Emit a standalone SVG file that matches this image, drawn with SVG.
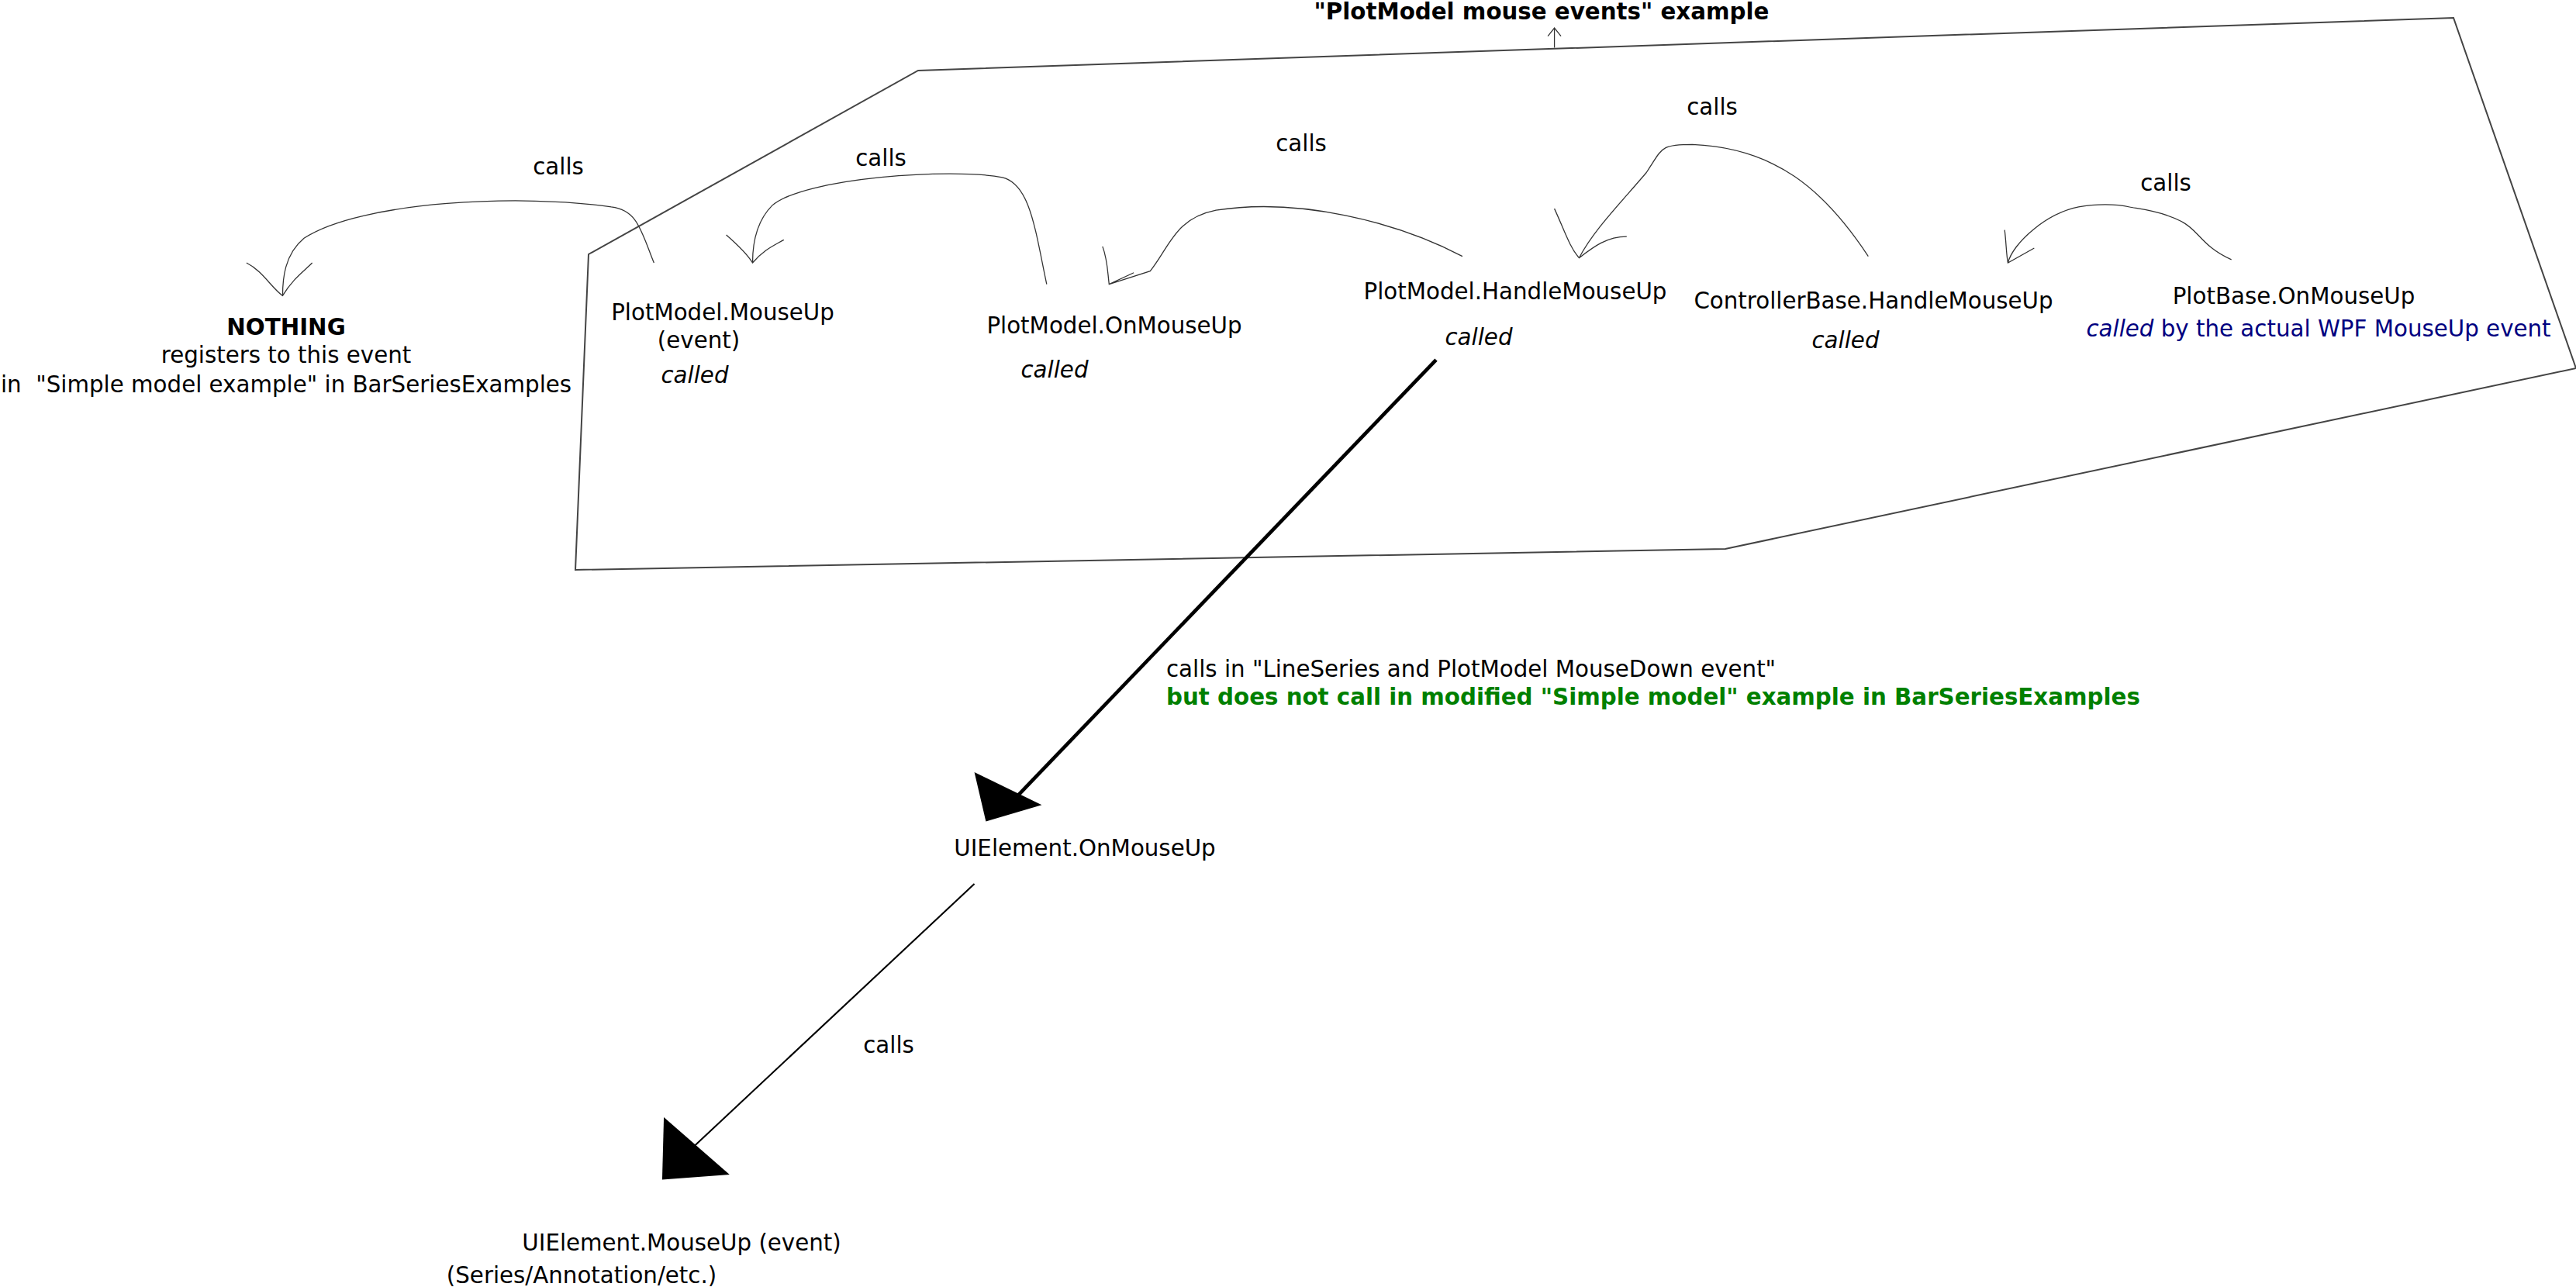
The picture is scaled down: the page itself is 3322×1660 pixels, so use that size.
<svg xmlns="http://www.w3.org/2000/svg" width="3322" height="1660" viewBox="0 0 3322 1660">
<style>
text{font-family:"DejaVu Sans",Verdana,sans-serif;font-size:29.3px;fill:#000;text-anchor:middle}
.b{font-weight:bold}.i{font-style:italic}.l{text-anchor:start}
.c{fill:none;stroke:#333;stroke-width:0.6}
</style>
<rect width="3322" height="1660" fill="#fff"/>
<g id="frame"><polygon points="1184,91 3164,23 3322,475 2225,708 742,735 759,328" fill="none" stroke="#444" stroke-width="2"/>
<text x="1988" y="25" class="b">"PlotModel mouse events" example</text></g>
<g id="connectors">
<g transform="scale(2.119)">
<path class="c" d="M946,29 V17 M942,22 L946,17 L950,22"/>
<path class="c" d="M398,160 C390,140 388,128 372,126 C320,118 220,122 185,145 C173,155 172,170 172,180 M150,160 C160,165 165,175 172,180 C178,170 185,165 190,160"/>
<path class="c" d="M637,173 C630,140 627,112 610,108 C580,102 490,108 470,125 C460,135 458,150 458,160 M442,143 C450,150 455,155 458,160 C465,152 470,150 477,146"/>
<path class="c" d="M890,156 C850,135 790,120 740,128 C715,133 712,150 700,165 L675,173 M671,150 C674,158 674,165 675,173 L690,166"/>
<path class="c" d="M1137,156 C1110,115 1080,90 1030,88 C1010,88 1012,90 1002,105 C985,125 970,140 961,157 M946,127 C952,140 955,150 961,157 C970,150 978,144 990,144"/>
<path class="c" d="M1358,158 C1340,150 1338,140 1328,135 C1315,128 1300,127 1296,126 C1288,124 1275,124 1265,126 C1245,130 1225,148 1222,160 M1220,140 C1221,148 1221,155 1222,160 L1238,151"/>
<path d="M874,219 L612,492" stroke="#000" stroke-width="2.2" fill="none"/>
<polygon points="593,470 634,490 600,500" fill="#000"/>
<path d="M593,538 L420,700" stroke="#000" stroke-width="1" fill="none"/>
<polygon points="404,680 444,715 403,718" fill="#000"/>
</g>
<text x="720" y="225">calls</text>
<text x="1136" y="214">calls</text>
<text x="1678" y="195">calls</text>
<text x="2208" y="148">calls</text>
<text x="2793" y="246">calls</text>
<text x="1146" y="1358">calls</text>
<text x="1504" y="873" class="l">calls in "LineSeries and PlotModel MouseDown event"</text>
<text x="1504" y="909" class="l b" style="fill:#008000">but does not call in modified "Simple model" example in BarSeriesExamples</text>
</g>
<g id="nothing"><text x="369" y="432" class="b">NOTHING</text><text x="369" y="468">registers to this event</text><text x="369" y="506">in &#160;"Simple model example" in BarSeriesExamples</text></g>
<g id="mouseup"><text x="932" y="413">PlotModel.MouseUp</text><text x="901" y="449">(event)</text><text x="896" y="494" class="i">called</text></g>
<g id="onmouseup"><text x="1437" y="430">PlotModel.OnMouseUp</text><text x="1360" y="487" class="i">called</text></g>
<g id="handle"><text x="1954" y="386">PlotModel.HandleMouseUp</text><text x="1907" y="445" class="i">called</text></g>
<g id="controller"><text x="2416" y="398">ControllerBase.HandleMouseUp</text><text x="2380" y="449" class="i">called</text></g>
<g id="plotbase"><text x="2958" y="392">PlotBase.OnMouseUp</text><text x="2990" y="434" style="fill:#000080"><tspan class="i">called</tspan> by the actual WPF MouseUp event</text></g>
<g id="uionmouseup"><text x="1399" y="1104">UIElement.OnMouseUp</text></g>
<g id="uimouseup"><text x="879" y="1613">UIElement.MouseUp (event)</text><text x="750" y="1655">(Series/Annotation/etc.)</text></g>
</svg>
